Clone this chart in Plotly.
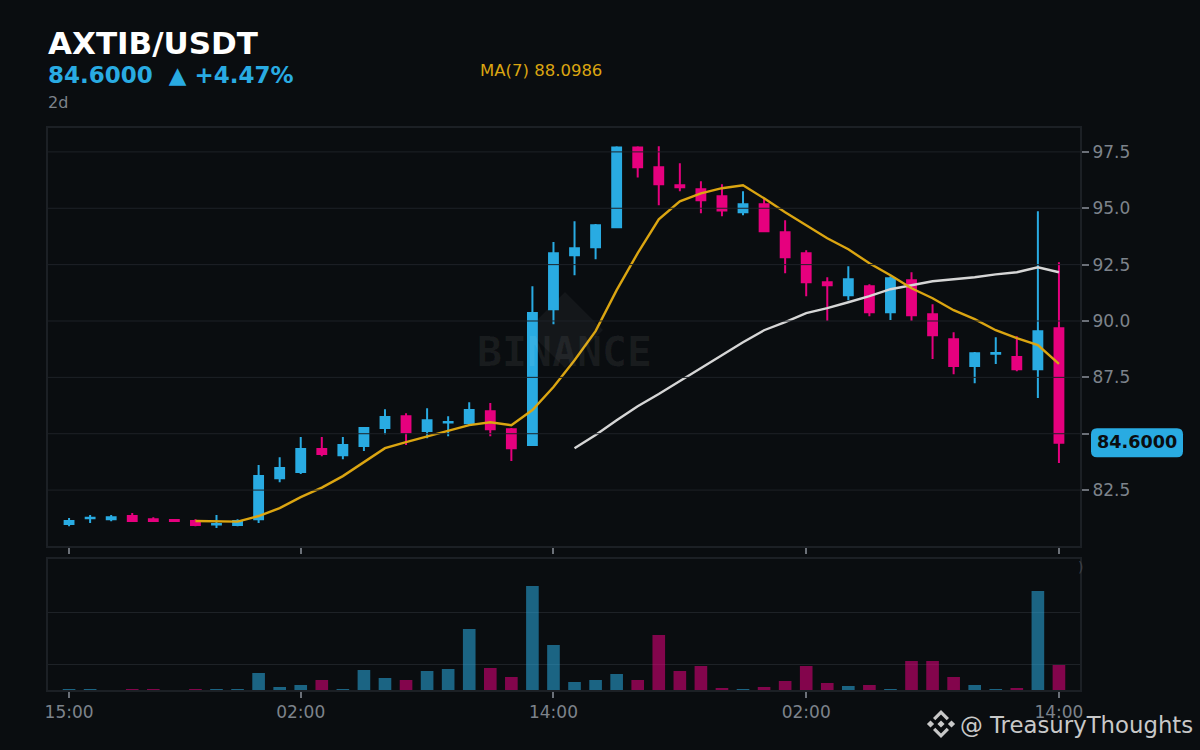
import plotly.graph_objects as go

# Hourly candles
hours = list(range(48))
opens = [81.0, 81.25, 81.21, 81.35, 81.21, 81.17, 81.13, 80.97, 80.95, 81.21, 83.03, 83.3,
         84.32, 84.05, 84.45, 85.25, 85.78, 85.12, 85.5, 85.47, 86.0, 85.2, 84.5, 90.52,
         92.92, 93.27, 94.16, 97.7, 96.82, 96.02, 95.84, 95.53, 94.82, 95.18, 93.94, 93.0,
         91.72, 91.14, 91.54, 90.39, 91.81, 90.3, 89.19, 88.0, 88.55, 88.4, 87.86, 89.68]
closes = [81.13, 81.27, 81.3, 81.13, 81.13, 81.13, 80.95, 81.0, 81.13, 83.12, 83.48, 84.32,
          84.1, 84.5, 85.25, 85.74, 85.07, 85.6, 85.52, 86.05, 85.2, 84.36, 90.35, 93.0,
          93.23, 94.25, 97.7, 96.82, 96.06, 95.93, 95.35, 94.9, 95.18, 93.98, 92.83, 91.72,
          91.59, 91.85, 90.39, 91.9, 90.26, 89.37, 88.0, 88.57, 88.58, 87.86, 89.55, 84.6]
highs = [81.26, 81.39, 81.39, 81.48, 81.3, 81.21, 81.21, 81.39, 81.21, 83.61, 83.96, 84.85,
         84.85, 84.85, 85.3, 86.09, 85.91, 86.13, 85.78, 86.4, 86.36, 85.25, 91.54, 93.5,
         94.42, 94.3, 97.75, 97.75, 97.75, 97.0, 96.2, 96.06, 95.75, 95.44, 94.47, 93.14,
         91.94, 92.43, 91.63, 91.98, 92.16, 90.74, 89.5, 88.62, 89.28, 89.32, 94.87, 92.6]
lows = [80.9, 81.04, 81.12, 81.08, 81.08, 81.08, 80.9, 80.82, 80.9, 81.04, 82.85, 83.21,
        84.0, 83.87, 84.23, 84.98, 84.5, 84.8, 84.89, 85.38, 84.89, 83.79, 84.45, 89.86,
        92.03, 92.74, 94.11, 96.37, 95.13, 95.75, 94.78, 94.65, 94.69, 93.94, 92.12, 91.1,
        90.0, 90.92, 90.21, 90.04, 90.0, 88.31, 87.64, 87.24, 88.09, 87.77, 86.58, 83.7]
volumes = [3, 3, 0, 1, 1, 0, 1, 10, 3, 170, 30, 50,
           100, 10, 200, 120, 100, 190, 210, 610, 220, 130, 1040, 450,
           80, 100, 160, 100, 550, 190, 240, 20, 3, 30, 90, 240,
           70, 40, 50, 10, 290, 290, 130, 50, 10, 20, 990, 250]

ma7_hours = list(range(6, 48))
ma7 = [81.13, 81.13, 81.10, 81.35, 81.70, 82.19, 82.61, 83.12, 83.74, 84.36, 84.63, 84.89,
       85.12, 85.38, 85.51, 85.38, 86.05, 87.07, 88.26, 89.55, 91.37, 93.01, 94.51, 95.31,
       95.66, 95.89, 96.02, 95.44, 94.82, 94.25, 93.67, 93.18, 92.56, 92.03, 91.45, 91.01,
       90.48, 90.08, 89.59, 89.24, 88.93, 88.10]
ma25_hours = list(range(24, 48))
ma25 = [84.36, 84.94, 85.60, 86.22, 86.76, 87.33, 87.91, 88.48, 89.06, 89.59, 89.95, 90.35,
        90.57, 90.83, 91.10, 91.41, 91.59, 91.76, 91.85, 91.94, 92.07, 92.16, 92.38, 92.16]

price_ticks = [82.5, 85, 87.5, 90, 92.5, 95, 97.5]
# 85.0 is covered by the price tag in the picture
price_labels = ["82.5", "", "87.5", "90.0", "92.5", "95.0", "97.5"]
volume_grid = [260, 780]
time_ticks = [0, 11, 23, 35, 47]
time_labels = ["15:00", "02:00", "14:00", "02:00", "14:00"]
last_price = 84.6

BG = "#0a0d10"
FRAME = "#1c2025"
GRID = "#1e2227"
BLUE = "#29abe2"
PINK = "#e6007e"
GOLD = "#dba511"
MUTED = "#7d838b"
TICK = "#6b7078"
FONT = "DejaVu Sans"


# pixel position in the page -> paper coordinates
def px(x):
    return (x - 48) / 1032


def py(y):
    return (690 - y) / 562


def diamond(cx, cy, r):
    return f"M{px(cx - r)},{py(cy)} L{px(cx)},{py(cy - r)} L{px(cx + r)},{py(cy)} L{px(cx)},{py(cy + r)} Z "


def poly(points):
    pts = [f"{px(x)},{py(y)}" for x, y in points]
    return "M" + " L".join(pts) + " Z "


fig = go.Figure()

fig.add_trace(go.Candlestick(
    x=hours, open=opens, high=highs, low=lows, close=closes,
    increasing=dict(line=dict(color=BLUE, width=2), fillcolor=BLUE),
    decreasing=dict(line=dict(color=PINK, width=2), fillcolor=PINK),
    whiskerwidth=0, xaxis="x", yaxis="y", showlegend=False,
))
fig.add_trace(go.Scatter(x=ma25_hours, y=ma25, mode="lines", line=dict(color="#d6d6d6", width=2.4),
                         xaxis="x", yaxis="y", showlegend=False))
fig.add_trace(go.Scatter(x=ma7_hours, y=ma7, mode="lines", line=dict(color=GOLD, width=2.4),
                         xaxis="x", yaxis="y", showlegend=False))

vol_colors = [BLUE if c >= o else PINK for o, c in zip(opens, closes)]
fig.add_trace(go.Bar(x=hours, y=volumes, marker=dict(color=vol_colors, line_width=0), opacity=0.55,
                     width=0.6, xaxis="x2", yaxis="y2", showlegend=False))

axis_common = dict(showline=True, linecolor=FRAME, linewidth=2, mirror=True, zeroline=False)

fig.update_layout(
    width=1200, height=750,
    margin=dict(l=48, r=120, t=128, b=60),
    paper_bgcolor=BG, plot_bgcolor=BG,
    font=dict(family=FONT, color=MUTED, size=17),
    boxgap=0.4,
    bargap=0.4,
    xaxis=dict(domain=[0, 1], range=[-1, 48], tickvals=time_ticks, ticktext=time_labels,
               showticklabels=False, showgrid=False, ticks="outside", ticklen=6, tickwidth=2,
               tickcolor=TICK, rangeslider=dict(visible=False), anchor="y", **axis_common),
    yaxis=dict(domain=[py(546), 1], range=[80.02, 98.56], side="right", tickvals=price_ticks,
               ticktext=price_labels, showgrid=False, ticks="outside", ticklen=7, tickwidth=2,
               tickcolor=TICK, tickfont=dict(size=17, color=MUTED), anchor="x", **axis_common),
    xaxis2=dict(domain=[0, 1], range=[-1, 48], tickvals=time_ticks, ticktext=time_labels,
                showgrid=False, ticks="outside", ticklen=6, tickwidth=2, tickcolor=TICK,
                tickfont=dict(size=17, color=MUTED), anchor="y2", **axis_common),
    yaxis2=dict(domain=[0, py(559)], range=[0, 1310], side="right", tickvals=volume_grid,
                showticklabels=False, showgrid=True, gridcolor=GRID, gridwidth=1, anchor="x2", **axis_common),
)

# price grid sits on top of the candles
for tick in price_ticks:
    fig.add_shape(type="line", xref="x domain", yref="y", x0=0, x1=1, y0=tick, y1=tick,
                  line=dict(color=GRID, width=1), layer="above")

# faint exchange mark behind the candles
fig.add_shape(type="path", xref="paper", yref="paper", path=diamond(565, 330, 38),
              fillcolor="rgba(255,255,255,0.045)", line_width=0, layer="below")

# price tag
fig.add_shape(type="path", xref="paper", yref="y", xsizemode="pixel", ysizemode="pixel",
              xanchor=1, yanchor=last_price,
              path="M 17,-14.5 L 97,-14.5 Q 103,-14.5 103,-8.5 L 103,8.5 Q 103,14.5 97,14.5 "
                   "L 17,14.5 Q 11,14.5 11,8.5 L 11,-8.5 Q 11,-14.5 17,-14.5 Z",
              fillcolor=BLUE, line_width=0, layer="above")

# small logo next to the handle
logo = (diamond(941, 724, 3.6) + diamond(930.5, 724, 3.6) + diamond(951.5, 724, 3.6)
        + poly([(941, 710), (949, 718), (946.7, 720.3), (941, 714.6), (935.3, 720.3), (933, 718)])
        + poly([(941, 738), (949, 730), (946.7, 727.7), (941, 733.4), (935.3, 727.7), (933, 730)]))
fig.add_shape(type="path", xref="paper", yref="paper", path=logo, fillcolor="#c8c8c8", line_width=0, layer="above")


def note(x, y, text, size, color, weight=None, anchor="left", family=FONT):
    if weight:
        text = f"<b>{text}</b>"
    fig.add_annotation(xref="paper", yref="paper", x=px(x), y=py(y), text=text, showarrow=False,
                       xanchor=anchor, yanchor="middle", xshift=-2 if anchor == "left" else 0,
                       font=dict(size=size, color=color, family=family))


note(48, 42.5, "AXTIB/USDT", 31, "#ffffff", weight=True)
note(48, 75, "84.6000  ▲ +4.47%", 23, BLUE, weight=True)
note(48, 102, "2d", 16, MUTED)
note(480, 70.5, "MA(7) 88.0986", 16.5, GOLD)
note(564, 351, "BINANCE", 41.5, "rgba(255,255,255,0.06)", weight=True, anchor="center", family="DejaVu Sans Mono")
note(1137, 442, "84.6000", 17.6, BG, weight=True, anchor="center")
note(959.5, 725, "@ TreasuryThoughts", 22.8, "#c8c8c8")
note(1078, 567, ")", 14, "#3c4148")

# the page's default body margin would push the chart off by 8px
fig.write_html("out.html", config=dict(displayModeBar=False),
               post_script="document.body.style.margin='0';document.body.style.background='#0a0d10';")
